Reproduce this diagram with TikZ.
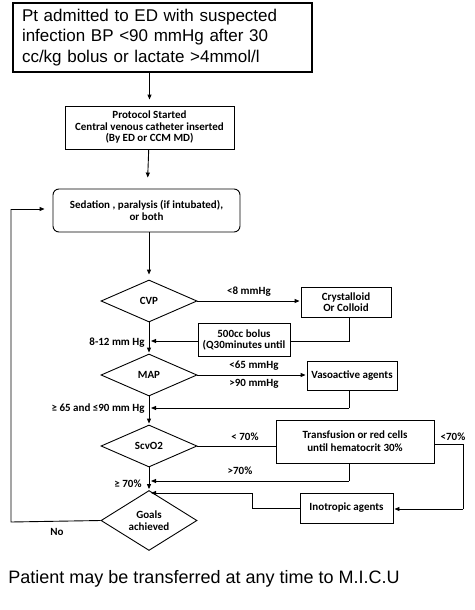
\documentclass[tikz,border=0pt]{standalone}
\usepackage{fontspec}
\setmainfont{Liberation Sans}
\newfontfamily\calfont{Carlito}
\usetikzlibrary{shapes.geometric,arrows.meta}

\tikzset{
	bigbox/.style={draw, line width=1.2pt, inner sep=0pt, minimum width=299pt, minimum height=69pt, text width=281pt, align=left, font=\fontsize{17}{20.5}\selectfont},
	stepbox/.style={draw, inner sep=2pt, align=center, font=\calfont\bfseries\fontsize{11}{11.5}\selectfont},
	decision/.style={draw, diamond, inner sep=0pt, minimum width=96pt, minimum height=42pt, align=center, font=\calfont\bfseries\fontsize{11}{11.5}\selectfont},
	lbl/.style={inner sep=1pt, font=\calfont\bfseries\fontsize{11}{11.5}\selectfont},
	flow/.style={->, shorten >=1pt}
}

\begin{document}
\begin{tikzpicture}[x=1pt, y=-1pt, line width=0.9pt, >={Triangle[length=5pt,width=4pt]}]
	\useasboundingbox (0,0) rectangle (474,610);

	\node[bigbox] (admit) at (162.5,37.5) {Pt admitted to ED with suspected\\infection BP <90 mmHg after 30\\cc/kg bolus or lactate >4mmol/l};
	\node[stepbox, minimum width=169pt, minimum height=43pt] (protocol) at (149.5,127.5) {Protocol Started\\Central venous catheter inserted\\(By ED or CCM MD)};
	\node[stepbox, rounded corners=6pt, minimum width=187pt, minimum height=43pt, font=\calfont\bfseries\fontsize{11}{12}\selectfont] (sedation) at (146.5,210.5) {Sedation , paralysis (if intubated),\\or both};

	\node[decision] (cvp) at (149,301) {CVP};
	\node[stepbox, minimum width=90pt, minimum height=30pt] (crystal) at (346,302) {Crystalloid\\Or Colloid};
	\node[stepbox, minimum width=92pt, minimum height=33pt] (bolus) at (244,340) {500cc bolus\\(Q30minutes until};

	\node[decision] (map) at (149,375) {MAP};
	\node[stepbox, minimum width=90pt, minimum height=29pt] (vaso) at (352,375.5) {Vasoactive agents};

	\node[decision] (scv) at (149,446) {ScvO2};
	\node[stepbox, minimum width=158pt, minimum height=43pt, font=\calfont\bfseries\fontsize{11}{13}\selectfont] (transf) at (355,441.5) {Transfusion or red cells\\until hematocrit 30\%};
	\node[stepbox, minimum width=93pt, minimum height=30pt] (inotrop) at (346.5,508) {Inotropic agents};

	\node[decision] (goals) at (149,520.5) {Goals\\achieved};

	\node[anchor=base west, font=\fontsize{18}{20}\selectfont, inner sep=0pt] (micu) at (8,583) {Patient may be transferred at any time to M.I.C.U};

	\coordinate (loopa) at (11,522);
	\coordinate (loopb) at (11,209);
	\coordinate (cryst-down) at (349,341);
	\coordinate (vaso-down) at (349,408);
	\coordinate (transf-right) at (463,444);
	\coordinate (transf-turn) at (463,509);
	\coordinate (transf-down) at (349,481);
	\coordinate (inot-left) at (252,508);
	\coordinate (inot-up) at (252,493);

	\draw[flow, shorten >=6pt] (admit.south -| protocol) -- (protocol);
	\draw[flow, shorten >=11pt] (protocol) -- (sedation);
	\draw[flow, shorten >=5pt] (sedation.south -| cvp) -- (cvp.north);

	\draw[flow] (cvp.east) -- node[lbl, above=3pt] (lcvp) {<8 mmHg} (crystal.west |- cvp.east);
	\draw (crystal.south -| cryst-down) -- (cryst-down) -- (bolus.east |- cryst-down);
	\draw[flow, shorten >=2pt] (bolus.west |- cryst-down) -- (cvp.south |- cryst-down);
	\draw[flow] (cvp.south) -- (map.north);
	\node[lbl, anchor=east] (lnorm) at (146,343) {8-12 mm Hg};

	\draw[flow] (map.east) -- (vaso.west |- map.east);
	\node[lbl] (llow) at (254,366) {<65 mmHg};
	\node[lbl] (lhigh) at (254,384) {>90 mmHg};
	\draw (vaso.south -| vaso-down) -- (vaso-down);
	\draw[flow, shorten >=2pt] (vaso-down) -- (map.south |- vaso-down);
	\node[lbl, anchor=east] (lmap) at (146,409) {≥ 65 and ≤90 mm Hg};
	\draw[flow] (map.south) -- (scv.north);

	\draw (scv.east) -- (transf.west |- scv.east);
	\node[lbl] (lscvlow) at (245,437) {< 70\%};
	\draw (transf.east |- transf-right) -- (transf-right) -- (transf-turn);
	\draw[flow] (transf-turn) -- (inotrop.east |- transf-turn);
	\node[lbl] (lhct) at (453,437) {<70\%};
	\draw (transf.south -| transf-down) -- (transf-down);
	\draw[flow, shorten >=2pt] (transf-down) -- (scv.south |- transf-down);
	\node[lbl] (lscvhigh) at (240,471) {>70\%};
	\node[lbl, anchor=east] (lscvok) at (143,484) {≥ 70\%};
	\draw (inotrop.west |- inot-left) -- (inot-left) -- (inot-up);
	\draw[flow, shorten >=2pt] (inot-up) -- (scv.south |- inot-up);
	\draw[flow] (scv.south) -- (goals.north);

	\draw (goals.west) -- (loopa) -- (loopb);
	\draw[flow, shorten >=8pt] (loopb) -- (sedation.west |- loopb);
	\node[lbl] (lno) at (57,532) {No};
\end{tikzpicture}
\end{document}
